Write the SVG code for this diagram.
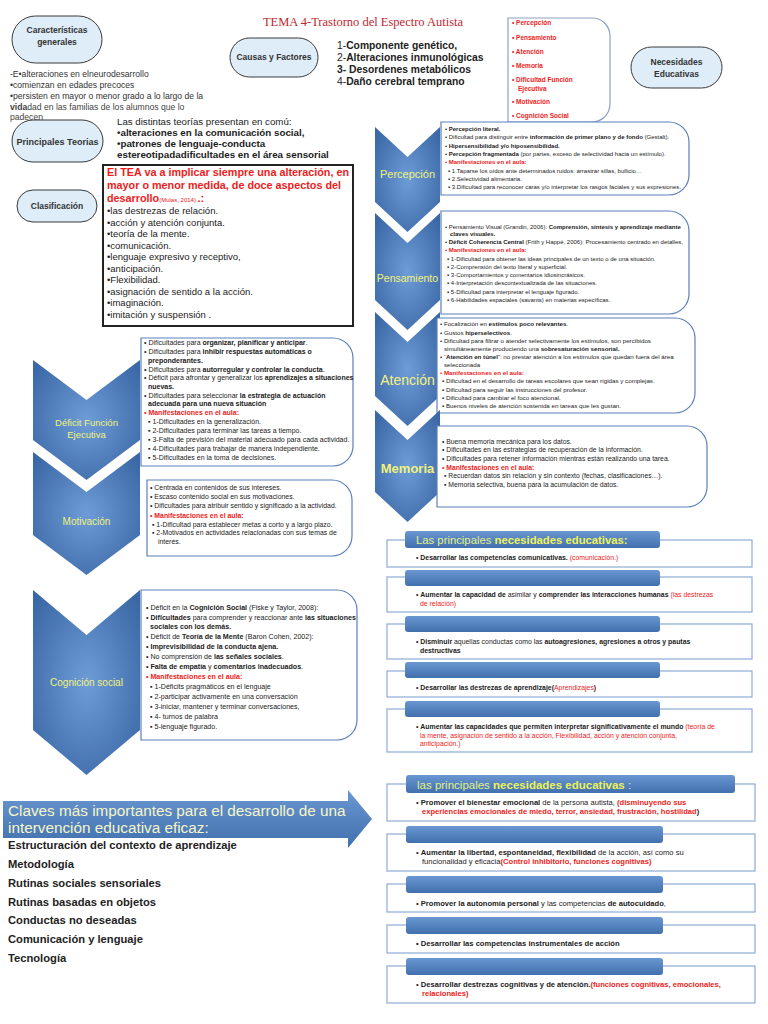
<svg xmlns="http://www.w3.org/2000/svg" width="768" height="1024" viewBox="0 0 768 1024">
<defs>
<radialGradient id="chev" cx="0.5" cy="0.5" r="0.65"><stop offset="0" stop-color="#6e9cd7"/><stop offset="1" stop-color="#3a67a5"/></radialGradient>
<linearGradient id="bar" x1="0" y1="0" x2="0" y2="1"><stop offset="0" stop-color="#6a97d1"/><stop offset="1" stop-color="#4170ae"/></linearGradient>
</defs>
<style>
text { font-family: "Liberation Sans", Arial, sans-serif; fill: #222; }
.b { font-weight: bold; }
.r { fill: #ee1c1c; }
.stad { fill: #deedf8; stroke: #3a3a3a; stroke-width: 1; }
.st { font-size: 8.5px; font-weight: bold; fill: #333; text-anchor: middle; }
.box { fill: #fff; stroke: #5b80ba; stroke-width: 1.2; }
.nbox { fill: #fff; stroke: #8eaad6; stroke-width: 1.2; }
.chev { fill: url(#chev); }
.ct { fill: #f2f27a; text-anchor: middle; }
.bar { fill: url(#bar); }
.fp { font-size: 6px; }
.fpe { font-size: 6px; }
.fa { font-size: 6.2px; }
.fm { font-size: 6.8px; }
.fd { font-size: 7px; }
.fmo { font-size: 6.9px; }
.fc { font-size: 7.1px; }
.n1 { font-size: 6.9px; }
.n2 { font-size: 7.6px; }
</style>
<rect width="768" height="1024" fill="#fff"/>

<text x="363" y="26" text-anchor="middle" style="font-family:'Liberation Serif',serif;font-size:12.5px;fill:#c0272d">TEMA 4-Trastorno del Espectro Autista</text>

<g id="caracteristicas">
<rect class="stad" x="12" y="16" width="90" height="47" rx="23.5"/>
<text class="st" x="57" y="33">Características</text>
<text class="st" x="57" y="45">generales</text>
<g style="font-size:8.6px">
<text x="10" y="77" style="fill:#333">-E•alteraciones en elneurodesarrollo</text>
<text x="10" y="88" style="fill:#333">•comienzan en edades precoces</text>
<text x="10" y="99" style="fill:#333">•persisten en mayor o menor grado a lo largo de la</text>
<text x="10" y="109.5" style="fill:#444"><tspan class="b">vida</tspan>dad en las familias de los alumnos que lo</text>
<text x="10" y="119.5" style="fill:#444">padecen</text>
</g>
</g>

<g id="causas">
<rect class="stad" x="230" y="38" width="88" height="39" rx="19.5"/>
<text class="st" x="274" y="60">Causas y Factores</text>
<g style="font-size:10.3px">
<text x="337" y="49">1-<tspan class="b">Componente genético,</tspan></text>
<text x="337" y="61">2-<tspan class="b">Alteraciones inmunológicas</tspan></text>
<text x="337" y="73" class="b">3- Desordenes metabólicos</text>
<text x="337" y="85">4-<tspan class="b">Daño cerebral temprano</tspan></text>
</g>
</g>

<g id="lista-aspectos">
<path class="box" d="M508,18 H592 A18,18 0 0 1 610,36 V104 A18,18 0 0 1 592,122 H508 Z" style="stroke:#8ea2c4"/>
<g class="b r" style="font-size:6.5px">
<text x="512" y="25" class="r">• Percepción</text>
<text x="512" y="40" class="r">• Pensamiento</text>
<text x="512" y="54" class="r">• Atención</text>
<text x="512" y="68" class="r">• Memoria</text>
<text x="512" y="82" class="r">• Dificultad Función</text>
<text x="518" y="91" class="r">Ejecutiva</text>
<text x="512" y="104" class="r">• Motivación</text>
<text x="512" y="118" class="r">• Cognición Social</text>
</g>
</g>

<g id="necesidades-educativas">
<rect class="stad" x="631" y="47" width="91" height="41" rx="20.5"/>
<text class="st" x="676.5" y="65">Necesidades</text>
<text class="st" x="676.5" y="77">Educativas</text>
</g>

<g id="principales-teorias">
<rect class="stad" x="12" y="120" width="91" height="42" rx="21"/>
<text class="st" x="57.5" y="145" style="font-size:9px">Principales Teorias</text>
<text x="117" y="125" style="font-size:9.7px">Las distintas teorías presentan en comú:</text>
<text x="117" y="136" class="b" style="font-size:9.8px">•alteraciones en la comunicación social,</text>
<text x="117" y="147" class="b" style="font-size:9.8px">•patrones de lenguaje-conducta</text>
<text x="117" y="158" class="b" style="font-size:9.8px">estereotipadadificultades en el área sensorial</text>
</g>

<g id="clasificacion">
<rect class="stad" x="17" y="190" width="80" height="32" rx="16"/>
<text class="st" x="57" y="209">Clasificación</text>
<rect x="103" y="165" width="250" height="161" fill="#fff" stroke="#222" stroke-width="2"/>
<g class="b r" style="font-size:10.8px">
<text x="107" y="176" class="r">El TEA va a implicar siempre una alteración, en</text>
<text x="107" y="189" class="r">mayor o menor medida, de doce aspectos del</text>
<text x="107" y="202" class="r">desarrollo<tspan class="r" style="font-size:6px;font-weight:normal">(Mulas, 2014).</tspan>.:</text>
</g>
<g style="font-size:9.5px">
<text x="107" y="214">•las destrezas de relación.</text>
<text x="107" y="225.5">•acción y atención conjunta.</text>
<text x="107" y="237">•teoría de la mente.</text>
<text x="107" y="248.5">•comunicación.</text>
<text x="107" y="260">•lenguaje expresivo y receptivo,</text>
<text x="107" y="271.5">•anticipación.</text>
<text x="107" y="283">•Flexibilidad.</text>
<text x="107" y="294.5">•asignación de sentido a la acción.</text>
<text x="107" y="306">•imaginación.</text>
<text x="107" y="317.5">•imitación y suspensión .</text>
</g>
</g>

<g id="percepcion">
<path class="chev" d="M375,127 L407.5,157 L440,127 L440,202 L407.5,232 L375,202 Z"/>
<text class="ct" x="407.5" y="178" style="font-size:11px">Percepción</text>
<path class="box" d="M441,122 H669 A20,20 0 0 1 689,142 V175 A20,20 0 0 1 669,195 H441 Z"/>
<g class="fp">
<text x="445" y="131" class="b">• Percepción literal.</text>
<text x="445" y="139">• Dificultad para distinguir entre <tspan class="b">información de primer plano y de fondo</tspan> (Gestalt).</text>
<text x="445" y="147.5" class="b">• Hipersensibilidad y/o hiposensibilidad.</text>
<text x="445" y="156">• <tspan class="b">Percepción fragmentada</tspan> (por partes, exceso de selectividad hacia un estímulo).</text>
<text x="445" y="164" class="b r">• Manifestaciones en el aula:</text>
<text x="448" y="173">▪ 1.Taparse los oídos ante determinados ruidos: arrastrar sillas, bullicio…</text>
<text x="448" y="181">▪ 2.Selectividad alimentaria.</text>
<text x="448" y="189">▪ 3.Dificultad para reconocer caras y/o interpretar los rasgos faciales y sus expresiones.</text>
</g>
</g>

<g id="pensamiento">
<path class="chev" d="M375,213 L407.5,243 L440,213 L440,300 L407.5,330 L375,300 Z"/>
<text class="ct" x="407.5" y="282" style="font-size:10.5px">Pensamiento</text>
<path class="box" d="M441,211 H669 A20,20 0 0 1 689,231 V294 A20,20 0 0 1 669,314 H441 Z"/>
<g class="fpe">
<text x="445" y="229">• Pensamiento Visual (Grandin, 2006): <tspan class="b">Comprensión, síntesis y aprendizaje mediante</tspan></text>
<text x="450" y="236" class="b">claves visuales.</text>
<text x="445" y="244">• <tspan class="b">Déficit Coherencia Central</tspan> (Frith y Happé, 2006): Procesamiento centrado en detalles,</text>
<text x="445" y="252" class="b r">• Manifestaciones en el aula:</text>
<text x="447" y="260.5">▪ 1-Dificultad para obtener las ideas principales de un texto o de una situación.</text>
<text x="447" y="268.5">▪ 2-Comprensión del texto literal y superficial.</text>
<text x="447" y="277">▪ 3-Comportamientos y comentarios idiosincrásicos.</text>
<text x="447" y="285">▪ 4-Interpretación descontextualizada de las situaciones.</text>
<text x="447" y="293.5">▪ 5-Dificultad para interpretar el lenguaje figurado.</text>
<text x="447" y="301.5">▪ 6-Habilidades espaciales (savants) en materias específicas.</text>
</g>
</g>

<g id="atencion">
<path class="chev" d="M375,312 L407.5,342 L440,312 L440,396 L407.5,426 L375,396 Z"/>
<text class="ct" x="407.5" y="385" style="font-size:14px">Atención</text>
<path class="box" d="M437,318 H675 A20,20 0 0 1 695,338 V393 A20,20 0 0 1 675,413 H437 Z"/>
<g class="fa">
<text x="440" y="326">• Focalización en <tspan class="b">estímulos poco relevantes</tspan>.</text>
<text x="440" y="334.5">• Gustos <tspan class="b">hiperselectivos</tspan>.</text>
<text x="440" y="343">• Dificultad para filtrar o atender selectivamente los estímulos, son percibidos</text>
<text x="444" y="350.5">simultáneamente produciendo una <tspan class="b">sobresaturación sensorial.</tspan></text>
<text x="440" y="359">• “<tspan class="b">Atención en túnel</tspan>”: no prestar atención a los estímulos que quedan fuera del área</text>
<text x="444" y="366.5">seleccionada</text>
<text x="440" y="375" class="b r">• Manifestaciones en el aula:</text>
<text x="442" y="383">▪ Dificultad en el desarrollo de tareas escolares que sean rígidas y complejas.</text>
<text x="442" y="391.5">▪ Dificultad para seguir las instrucciones del profesor.</text>
<text x="442" y="400">▪ Dificultad para cambiar el foco atencional.</text>
<text x="442" y="408">▪ Buenos niveles de atención sostenida en tareas que les gustan.</text>
</g>
</g>

<g id="memoria">
<path class="chev" d="M375,410 L407.5,440 L440,410 L440,492 L407.5,522 L375,492 Z"/>
<text class="ct b" x="407.5" y="473" style="font-size:13px">Memoria</text>
<path class="box" d="M437,426 H687 A20,20 0 0 1 707,446 V487 A20,20 0 0 1 687,507 H437 Z"/>
<g class="fm">
<text x="442" y="443.5">• Buena memoria mecánica para los datos.</text>
<text x="442" y="452">• Dificultades en las estrategias de recuperación de la información.</text>
<text x="442" y="460.5">• Dificultades para retener información mientras están realizando una tarea.</text>
<text x="442" y="469.5" class="b r">• Manifestaciones en el aula:</text>
<text x="444" y="478">▪ Recuerdan datos sin relación y sin contexto (fechas, clasificaciones…).</text>
<text x="444" y="486.5">▪ Memoria selectiva, buena para la acumulación de datos.</text>
</g>
</g>

<g id="deficit-funcion-ejecutiva">
<path class="chev" d="M33,360 L86.5,400 L140,360 L140,440 L86.5,480 L33,440 Z"/>
<text class="ct" x="86.5" y="426" style="font-size:9.5px">Déficit Función</text>
<text class="ct" x="86.5" y="438" style="font-size:9.5px">Ejecutiva</text>
<path class="box" d="M141,338 H333 A20,20 0 0 1 353,358 V446 A20,20 0 0 1 333,466 H141 Z"/>
<g class="fd">
<text x="144" y="345">• Dificultades para <tspan class="b">organizar, planificar y anticipar</tspan>.</text>
<text x="144" y="354">• Dificultades para <tspan class="b">inhibir respuestas automáticas o</tspan></text>
<text x="148" y="362.5" class="b">preponderantes.</text>
<text x="144" y="371.5">• Dificultades para <tspan class="b">autorregular y controlar la conducta</tspan>.</text>
<text x="144" y="380">• Déficit para afrontar y generalizar los <tspan class="b">aprendizajes a situaciones</tspan></text>
<text x="148" y="388.5" class="b">nuevas.</text>
<text x="144" y="397.5">• Dificultades para seleccionar <tspan class="b">la estrategia de actuación</tspan></text>
<text x="148" y="405.5" class="b">adecuada para una nueva situación</text>
<text x="144" y="414.5" class="b r">• Manifestaciones en el aula:</text>
<text x="148" y="423.5">▪ 1-Dificultades en la generalización.</text>
<text x="148" y="433">▪ 2-Dificultades para terminar las tareas a tiempo.</text>
<text x="148" y="442">▪ 3-Falta de previsión del material adecuado para cada actividad.</text>
<text x="148" y="451">▪ 4-Dificultades para trabajar de manera independiente.</text>
<text x="148" y="460">▪ 5-Dificultades en la toma de decisiones.</text>
</g>
</g>

<g id="motivacion">
<path class="chev" d="M33,452 L86.5,492 L140,452 L140,535 L86.5,575 L33,535 Z"/>
<text class="ct" x="86.5" y="525" style="font-size:10px">Motivación</text>
<path class="box" d="M147,480 H332 A20,20 0 0 1 352,500 V536 A20,20 0 0 1 332,556 H147 Z"/>
<g class="fmo">
<text x="150" y="490">• Centrada en contenidos de sus intereses.</text>
<text x="150" y="498.5">• Escaso contenido social en sus motivaciones.</text>
<text x="150" y="508">• Dificultades para atribuir sentido y significado a la actividad.</text>
<text x="150" y="518" class="b r">• Manifestaciones en el aula:</text>
<text x="152" y="526.5">▪ 1-Dificultad para establecer metas a corto y a largo plazo.</text>
<text x="152" y="535">▪ 2-Motivados en actividades relacionadas con sus temas de</text>
<text x="158" y="544">interés.</text>
</g>
</g>

<g id="cognicion-social">
<path class="chev" d="M33,590 L86.5,635 L140,590 L140,730 L86.5,775 L33,730 Z"/>
<text class="ct" x="86.5" y="686" style="font-size:10px">Cognición social</text>
<path class="box" d="M141,590 H337 A20,20 0 0 1 357,610 V720 A20,20 0 0 1 337,740 H141 Z"/>
<g class="fc">
<text x="146" y="609.5">• Déficit en la <tspan class="b">Cognición Social</tspan> (Fiske y Taylor, 2008):</text>
<text x="146" y="619.5">• <tspan class="b">Dificultades</tspan> para comprender y reaccionar ante <tspan class="b">las situaciones</tspan></text>
<text x="150" y="629" class="b">sociales con los demás.</text>
<text x="146" y="639">• Déficit de <tspan class="b">Teoría de la Mente</tspan> (Baron Cohen, 2002):</text>
<text x="146" y="649" class="b">• Imprevisibilidad de la conducta ajena.</text>
<text x="146" y="659">• No comprensión de <tspan class="b">las señales sociales</tspan>.</text>
<text x="146" y="669">• <tspan class="b">Falta de empatía</tspan> y <tspan class="b">comentarios inadecuados</tspan>.</text>
<text x="146" y="679" class="b r">• Manifestaciones en el aula:</text>
<text x="150" y="689">▪ 1-Déficits pragmáticos en el lenguaje</text>
<text x="150" y="699">▪ 2-participar activamente en una conversación</text>
<text x="150" y="709">▪ 3-iniciar, mantener y terminar conversaciones,</text>
<text x="150" y="719">▪ 4- turnos de palabra</text>
<text x="150" y="729">▪ 5-lenguaje figurado.</text>
</g>
</g>

<g id="necesidades-1">
<rect class="nbox" x="387" y="540" width="365" height="27"/>
<rect class="bar" x="405" y="531" width="255" height="17" rx="3"/>
<text x="416" y="544" style="font-size:11.3px;fill:#e3ef86">Las principales <tspan class="b" style="fill:#eef25a">necesidades educativas:</tspan></text>
<text x="416" y="560" class="n1">• <tspan class="b">Desarrollar las competencias comunicativas.</tspan> <tspan class="r">(comunicación.)</tspan></text>

<rect class="nbox" x="387" y="577" width="365" height="35"/>
<rect class="bar" x="405" y="570" width="255" height="16" rx="3"/>
<text x="416" y="597" class="n1">• <tspan class="b">Aumentar la capacidad de</tspan> asimilar y <tspan class="b">comprender las interacciones humanas</tspan> <tspan class="r">(las destrezas</tspan></text>
<text x="420" y="605.5" class="n1 r">de relación)</text>

<rect class="nbox" x="387" y="624" width="365" height="35"/>
<rect class="bar" x="405" y="616" width="255" height="16" rx="3"/>
<text x="416" y="644" class="n1">• <tspan class="b">Disminuir</tspan> aquellas conductas como las <tspan class="b">autoagresiones, agresiones a otros y pautas</tspan></text>
<text x="420" y="652.5" class="n1 b">destructivas</text>

<rect class="nbox" x="387" y="671" width="365" height="26"/>
<rect class="bar" x="405" y="662" width="255" height="16" rx="3"/>
<text x="416" y="690" class="n1">• <tspan class="b">Desarrollar las destrezas de aprendizaje(</tspan><tspan class="r">Aprendizajes</tspan><tspan class="b">)</tspan></text>

<rect class="nbox" x="387" y="709" width="365" height="43"/>
<rect class="bar" x="405" y="701" width="255" height="16" rx="3"/>
<text x="416" y="729" class="n1">• <tspan class="b">Aumentar las capacidades que permiten interpretar significativamente el mundo</tspan> <tspan class="r">(teoría de</tspan></text>
<text x="420" y="737.5" class="n1 r">la mente, asignación de sentido a la acción, Flexibilidad, acción y atención conjunta,</text>
<text x="420" y="746" class="n1 r">anticipación.)</text>
</g>

<g id="necesidades-2">
<rect class="nbox" x="387" y="784" width="368" height="37"/>
<rect class="bar" x="406" y="775" width="329" height="18" rx="3"/>
<text x="417" y="789" style="font-size:11.5px;fill:#e3ef86">las principales <tspan class="b" style="fill:#eef25a">necesidades educativas</tspan> :</text>
<text x="416" y="804.5" class="n2">• <tspan class="b">Promover el bienestar emocional</tspan> de la persona autista, <tspan class="b r">(disminuyendo sus</tspan></text>
<text x="422" y="814" class="n2 b"><tspan class="r">experiencias emocionales de miedo, terror, ansiedad, frustración, hostilidad</tspan>)</text>

<rect class="nbox" x="387" y="834" width="368" height="37"/>
<rect class="bar" x="406" y="826" width="257" height="17" rx="3"/>
<text x="416" y="855" class="n2">• <tspan class="b">Aumentar la libertad, espontaneidad, flexibilidad</tspan> de la acción, así como su</text>
<text x="422" y="864" class="n2">funcionalidad y eficacia<tspan class="b r">(Control inhibitorio, funciones cognitivas)</tspan></text>

<rect class="nbox" x="387" y="884" width="368" height="28"/>
<rect class="bar" x="406" y="876" width="257" height="17" rx="3"/>
<text x="416" y="905.5" class="n2">• <tspan class="b">Promover la autonomía personal</tspan> y las competencias <tspan class="b">de autocuidado</tspan>,</text>

<rect class="nbox" x="387" y="925" width="368" height="28"/>
<rect class="bar" x="406" y="917" width="257" height="17" rx="3"/>
<text x="416" y="945.5" class="n2 b">• Desarrollar las competencias instrumentales de acción</text>

<rect class="nbox" x="387" y="966" width="368" height="37"/>
<rect class="bar" x="406" y="958" width="257" height="17" rx="3"/>
<text x="416" y="987" class="n2">• <tspan class="b">Desarrollar destrezas cognitivas y de atención.</tspan><tspan class="b r">(funciones cognitivas, emocionales,</tspan></text>
<text x="422" y="996" class="n2 b r">relacionales)</text>
</g>

<g id="claves">
<path d="M3,801 H348 V790 L372,819 L348,848 V838 H3 Z" fill="url(#bar)"/>
<text x="8" y="816" style="font-size:15.3px;fill:#f6f6c6">Claves más importantes para el desarrollo de una</text>
<text x="8" y="833" style="font-size:15.3px;fill:#f6f6c6">intervención educativa eficaz:</text>
<g class="b" style="font-size:11.2px">
<text x="8" y="849">Estructuración del contexto de aprendizaje</text>
<text x="8" y="868">Metodología</text>
<text x="8" y="887">Rutinas sociales sensoriales</text>
<text x="8" y="905.5">Rutinas basadas en objetos</text>
<text x="8" y="924">Conductas no deseadas</text>
<text x="8" y="943">Comunicación y lenguaje</text>
<text x="8" y="962">Tecnología</text>
</g>
</g>
<g id="connectors"/>
</svg>
